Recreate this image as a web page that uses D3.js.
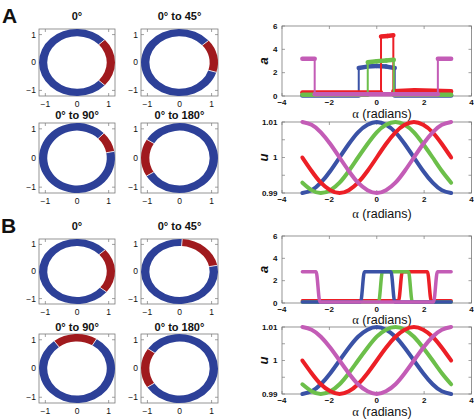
<!DOCTYPE html>
<html>
<head>
<meta charset="utf-8">
<script src="https://cdn.jsdelivr.net/npm/d3@7"></script>
<style>
  body { margin: 0; background: #fff; }
  svg { display: block; }
  text { font-family: "Liberation Sans", Arial, sans-serif; fill: #111; }
</style>
</head>
<body>
<svg id="fig" width="474" height="419"></svg>
<script>
// ---- ring panels: red arc start / end (degrees, counter-clockwise from +x)
const ringTitles = ["0°", "0° to 45°", "0° to 90°", "0° to 180°"];
const redFromA = [-43, -17, 11, 148];
const redToA   = [43, 41, 45, 211];
const redFromB = [-39, 11, 59, 145];
const redToB   = [42, 86, 127, 213];
const ringTicks = [-1, 0, 1];

// ---- u(alpha) curves, same for A and B
const alpha   = [-3.14, -2.75, -2.36, -1.96, -1.57, -1.18, -0.79, -0.39, 0, 0.39, 0.79, 1.18, 1.57, 1.96, 2.36, 2.75, 3.14];
const uBlue   = [0.990, 0.9908, 0.9929, 0.9962, 1.000, 1.0038, 1.0071, 1.0092, 1.010, 1.0092, 1.0071, 1.0038, 1.000, 0.9962, 0.9929, 0.9908, 0.990];
const uGreen  = [0.9929, 0.9908, 0.990, 0.9908, 0.9929, 0.9962, 1.000, 1.0038, 1.0071, 1.0092, 1.010, 1.0092, 1.0071, 1.0038, 1.000, 0.9962, 0.9929];
const uRed    = [1.000, 0.9962, 0.9929, 0.9908, 0.990, 0.9908, 0.9929, 0.9962, 1.000, 1.0038, 1.0071, 1.0092, 1.010, 1.0092, 1.0071, 1.0038, 1.000];
const uPurple = [1.010, 1.0092, 1.0071, 1.0038, 1.000, 0.9962, 0.9929, 0.9908, 0.990, 0.9908, 0.9929, 0.9962, 1.000, 1.0038, 1.0071, 1.0092, 1.010];

// ---- a(alpha), panel A  [alpha, a]
const aBlueA   = [[-3.14, 0.05], [-0.76, 0.05], [-0.76, 2.4], [-0.4, 2.52], [0, 2.58], [0.4, 2.52], [0.76, 2.4], [0.76, 0.05], [3.14, 0.05]];
const aGreenA  = [[-3.14, 0.1], [-0.38, 0.1], [-0.38, 2.9], [0, 2.98], [0.4, 3.05], [0.72, 3.1], [0.72, 0.1], [3.14, 0.1]];
const aRedA    = [[-3.14, 0.3], [0.18, 0.3], [0.18, 5.1], [0.45, 5.15], [0.7, 5.2], [0.7, 0.4], [1.6, 0.5], [3.14, 0.4]];
const aPurpleA = [[-3.14, 3.2], [-2.62, 3.2], [-2.62, 0.15], [2.58, 0.15], [2.58, 3.2], [3.14, 3.2]];

// ---- a(alpha), panel B
const aBlueB   = [[-3.14, 0.1], [-0.68, 0.1], [-0.52, 2.8], [0.6, 2.8], [0.76, 0.1], [3.14, 0.1]];
const aGreenB  = [[-3.14, 0.1], [0.08, 0.1], [0.24, 2.8], [1.34, 2.8], [1.5, 0.1], [3.14, 0.1]];
const aRedB    = [[-3.14, 0.2], [0.92, 0.2], [1.08, 2.8], [2.14, 2.8], [2.3, 0.2], [3.14, 0.2]];
const aPurpleB = [[-3.14, 2.8], [-2.56, 2.8], [-2.4, 0.1], [2.4, 0.1], [2.56, 2.8], [3.14, 2.8]];

const alphaTicks = [-4, -2, 0, 2, 4];
const aTicks = [0, 2, 4, 6];
const uTicks = [0.99, 0.995, 1, 1.005, 1.01];
const uTickLabels = ["0.99", "", "1", "", "1.01"];

const C = { blue: "#3a52a6", green: "#6cbf4a", red: "#ec1f26", purple: "#c35cb6",
            ringBlue: "#2d4098", ringRed: "#a01a1e", axis: "#7a7a7a" };

const svg = d3.select("#fig");
svg.append("rect").attr("width", 474).attr("height", 419).attr("fill", "#fff");

function box(g, x0, x1, y0, y1) {
    g.append("rect").attr("x", x0).attr("y", y0)
        .attr("width", x1 - x0).attr("height", y1 - y0)
        .attr("fill", "none").attr("stroke", C.axis).attr("stroke-width", 0.8);
}

function ticksInside(g, x, y, xt, yt, len) {
    const [x0, x1] = x.range(), [y1, y0] = y.range();
    xt.forEach(t => {
        g.append("line").attr("x1", x(t)).attr("x2", x(t)).attr("y1", y1).attr("y2", y1 - len)
            .attr("stroke", C.axis).attr("stroke-width", 0.7);
        g.append("line").attr("x1", x(t)).attr("x2", x(t)).attr("y1", y0).attr("y2", y0 + len)
            .attr("stroke", C.axis).attr("stroke-width", 0.7);
    });
    yt.forEach(t => {
        g.append("line").attr("x1", x0).attr("x2", x0 + len).attr("y1", y(t)).attr("y2", y(t))
            .attr("stroke", C.axis).attr("stroke-width", 0.7);
        g.append("line").attr("x1", x1).attr("x2", x1 - len).attr("y1", y(t)).attr("y2", y(t))
            .attr("stroke", C.axis).attr("stroke-width", 0.7);
    });
}

// one ring plot
function ringPanel(x0, x1, y0, y1, title, titleY, from, to) {
    const g = svg.append("g");
    const x = d3.scaleLinear().domain([-1.2, 1.2]).range([x0, x1]);
    const y = d3.scaleLinear().domain([-1.2, 1.2]).range([y1, y0]);
    box(g, x0, x1, y0, y1);
    ticksInside(g, x, y, ringTicks, ringTicks, 3);

    const arc = d3.arc().innerRadius(0.94).outerRadius(1.2);
    const rad = d => d * Math.PI / 180;
    const ring = g.append("g")
        .attr("transform", `translate(${x(0)},${y(0)}) scale(${x(1) - x(0)},${y(0) - y(1)})`);
    ring.append("path")
        .attr("d", arc({ startAngle: Math.PI / 2 - rad(from + 360), endAngle: Math.PI / 2 - rad(to) }))
        .attr("fill", C.ringBlue);
    ring.append("path")
        .attr("d", arc({ startAngle: Math.PI / 2 - rad(to), endAngle: Math.PI / 2 - rad(from) }))
        .attr("fill", C.ringRed);
    [from, to].forEach(d => {
        g.append("line")
            .attr("x1", x(0.94 * Math.cos(rad(d)))).attr("y1", y(0.94 * Math.sin(rad(d))))
            .attr("x2", x(1.2 * Math.cos(rad(d)))).attr("y2", y(1.2 * Math.sin(rad(d))))
            .attr("stroke", "#e8e8f0").attr("stroke-width", 0.9);
    });

    g.selectAll(".xl").data(ringTicks).join("text")
        .attr("x", d => x(d)).attr("y", y1 + 11)
        .attr("text-anchor", "middle").attr("font-size", 8.5)
        .text(d => d === -1 ? "\u22121" : d);
    g.selectAll(".yl").data(ringTicks).join("text")
        .attr("x", x0 - 3).attr("y", d => y(d)).attr("dy", "0.35em")
        .attr("text-anchor", "end").attr("font-size", 8.5)
        .text(d => d === -1 ? "\u22121" : d);
    g.append("text").attr("x", (x0 + x1) / 2).attr("y", titleY)
        .attr("text-anchor", "middle").attr("font-size", 11).attr("font-weight", "bold")
        .text(title);
}

// line plot axes
function linePanel(y0, y1, yDomain, yt, ytLabels, ylab, xlabY) {
    const g = svg.append("g");
    const x = d3.scaleLinear().domain([-4, 4]).range([282, 471.5]);
    const y = d3.scaleLinear().domain(yDomain).range([y1, y0]);
    box(g, 282, 471.5, y0, y1);
    ticksInside(g, x, y, alphaTicks, yt, 3);
    g.selectAll(".xl").data(alphaTicks).join("text")
        .attr("x", d => x(d)).attr("y", y1 + 8.5)
        .attr("text-anchor", "middle").attr("font-size", 8).attr("font-weight", "bold")
        .text(d => d < 0 ? "\u2212" + (-d) : d);
    g.selectAll(".yl").data(yt).join("text")
        .attr("x", 277.5).attr("y", d => y(d)).attr("dy", "0.35em")
        .attr("text-anchor", "end").attr("font-size", 8).attr("font-weight", "bold")
        .text((d, i) => ytLabels[i]);
    const xl = g.append("text").attr("x", 382).attr("y", xlabY)
        .attr("text-anchor", "middle").attr("font-size", 12.5);
    xl.append("tspan").attr("font-family", "'Liberation Serif', serif").text("α");
    xl.append("tspan").text(" (radians)");
    g.append("text")
        .attr("transform", `translate(268,${(y0 + y1) / 2}) rotate(-90)`)
        .attr("text-anchor", "middle").attr("font-size", 13)
        .attr("font-weight", "bold").attr("font-style", "italic")
        .text(ylab);
    return { g, x, y };
}

// step-like a(alpha): vertical jumps thin, plateaus thick
function drawSteps(p, series, color) {
    for (let i = 0; i < series.length - 1; i++) {
        const [a0, v0] = series[i], [a1, v1] = series[i + 1];
        const vertical = a0 === a1;
        p.g.append("line")
            .attr("x1", p.x(a0)).attr("y1", p.y(v0)).attr("x2", p.x(a1)).attr("y2", p.y(v1))
            .attr("stroke", color).attr("stroke-width", vertical ? 2 : 4.5)
            .attr("stroke-linecap", "round");
    }
}

function drawSmooth(p, pts, color, curve, w) {
    p.g.append("path")
        .attr("d", d3.line().x(d => p.x(d[0])).y(d => p.y(d[1])).curve(curve)(pts))
        .attr("fill", "none").attr("stroke", color).attr("stroke-width", w)
        .attr("stroke-linecap", "round");
}

function drawU(y0, y1, xlabY) {
    const p = linePanel(y0, y1, [0.99, 1.01], uTicks, uTickLabels, "u", xlabY);
    [[uBlue, C.blue], [uGreen, C.green], [uRed, C.red], [uPurple, C.purple]].forEach(([vals, col]) => {
        drawSmooth(p, alpha.map((a, i) => [a, vals[i]]), col, d3.curveNatural, 4);
    });
}

// ---------- panel A ----------
svg.append("text").attr("x", 2).attr("y", 23).attr("font-size", 21).attr("font-weight", "bold").text("A");
const colX = [[39, 115], [141, 218]];
const rowsA = [[29, 96, 20], [123, 193, 119]];
const rowsB = [[239, 304, 230], [334, 403, 331]];
ringTitles.forEach((t, i) => {
    const c = colX[i % 2], r = rowsA[Math.floor(i / 2)];
    ringPanel(c[0], c[1], r[0], r[1], t, r[2], redFromA[i], redToA[i]);
});
const pA = linePanel(26, 96, [0, 6], aTicks, aTicks.map(String), "a", 117.5);
drawSteps(pA, aBlueA, C.blue);
drawSteps(pA, aRedA, C.red);
drawSteps(pA, aGreenA, C.green);
drawSteps(pA, aPurpleA, C.purple);
drawU(122, 193, 217.5);

// ---------- panel B ----------
svg.append("text").attr("x", 1).attr("y", 233).attr("font-size", 21).attr("font-weight", "bold").text("B");
ringTitles.forEach((t, i) => {
    const c = colX[i % 2], r = rowsB[Math.floor(i / 2)];
    ringPanel(c[0], c[1], r[0], r[1], t, r[2], redFromB[i], redToB[i]);
});
const pB = linePanel(236, 303, [0, 6], aTicks, aTicks.map(String), "a", 324);
drawSmooth(pB, aRedB, C.red, d3.curveMonotoneX, 3.5);
drawSmooth(pB, aGreenB, C.green, d3.curveMonotoneX, 3.5);
drawSmooth(pB, aBlueB, C.blue, d3.curveMonotoneX, 3.5);
drawSmooth(pB, aPurpleB, C.purple, d3.curveMonotoneX, 3.5);
drawU(327, 394, 416);
</script>
</body>
</html>
